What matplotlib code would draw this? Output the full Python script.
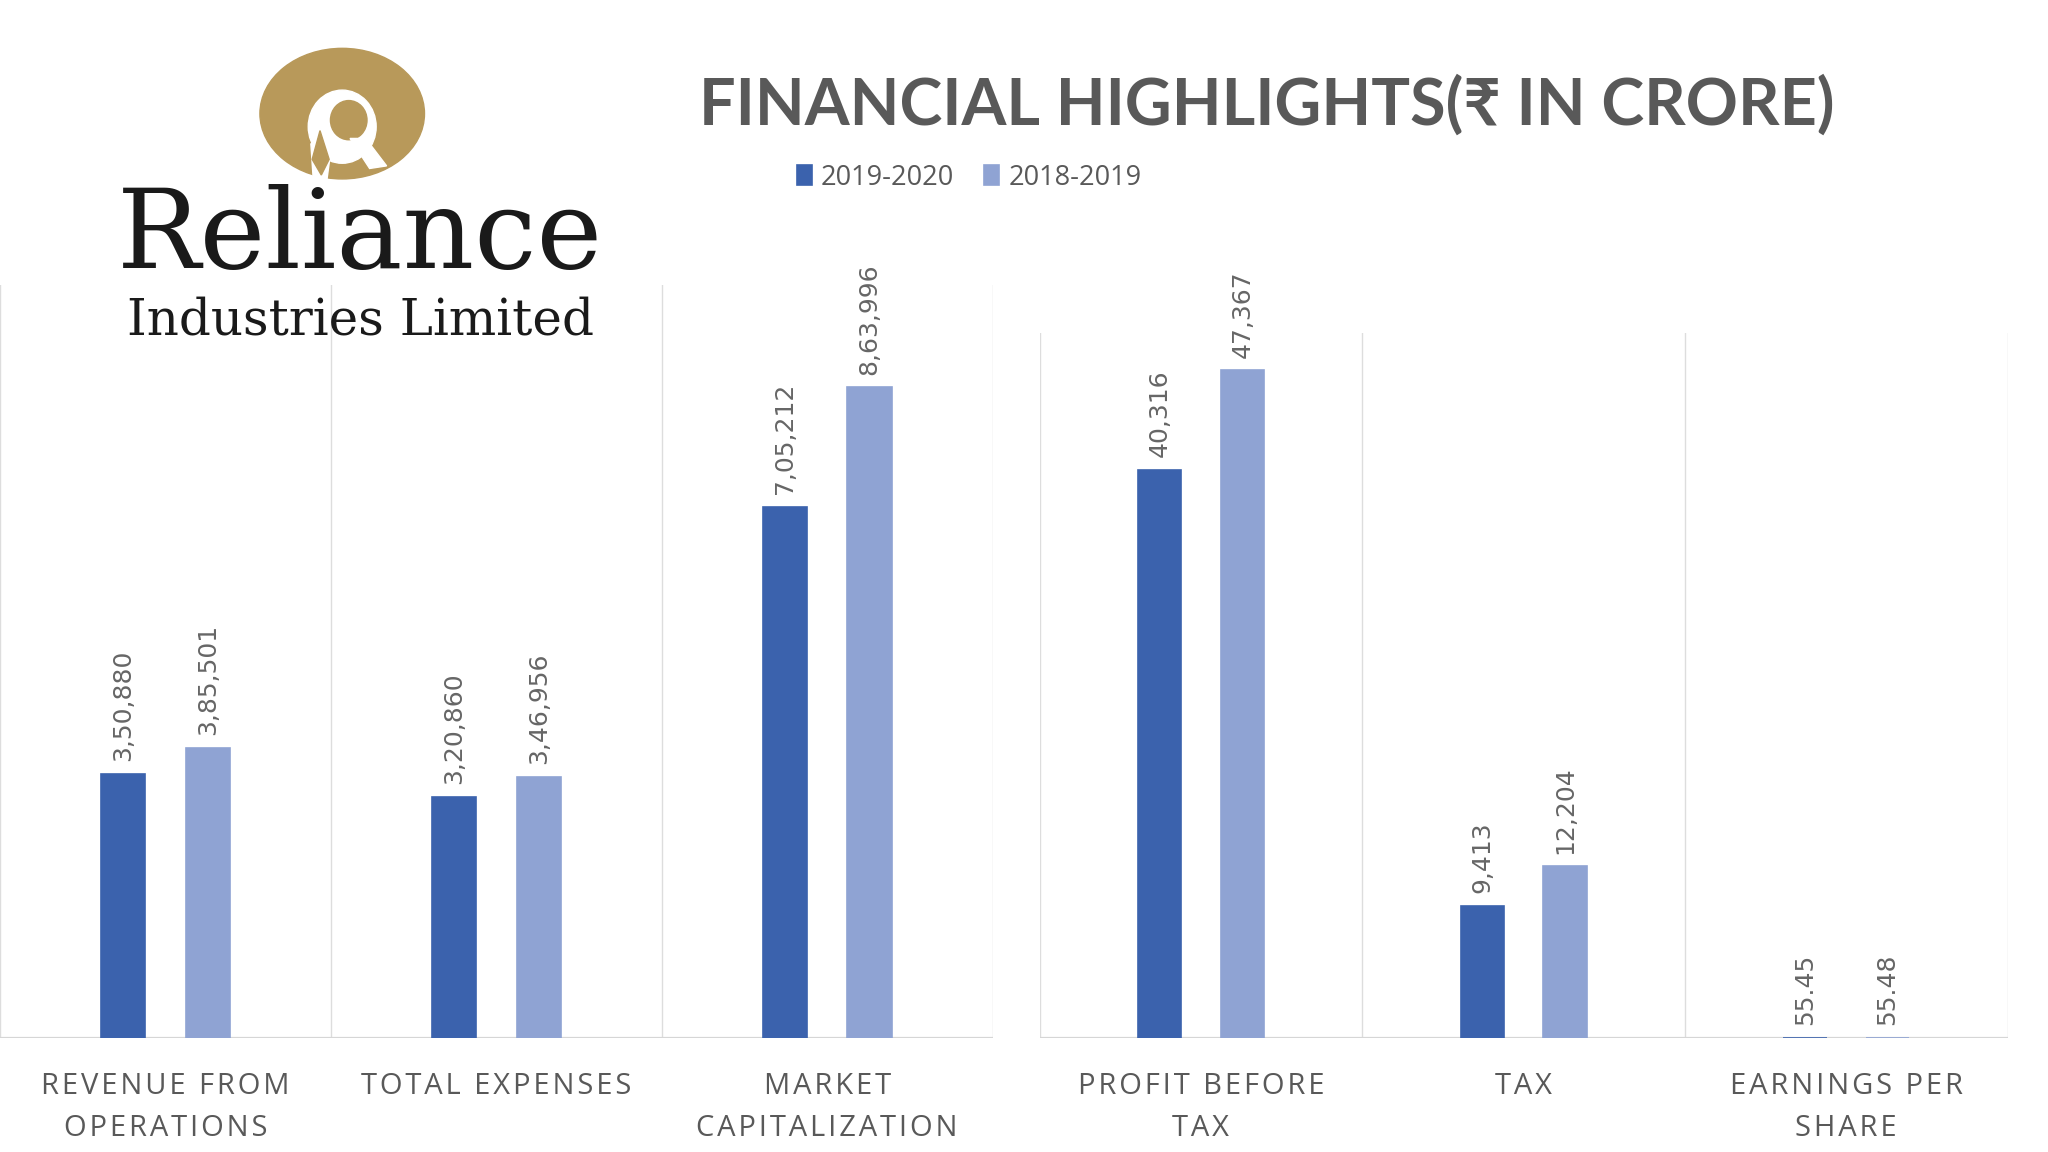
import numpy as np
import matplotlib as mpl
import matplotlib.pyplot as plt
from matplotlib.patches import Ellipse, Polygon

# values in Rs crore (EPS in Rs)
left_cats = ['REVENUE FROM\nOPERATIONS', 'TOTAL EXPENSES', 'MARKET\nCAPITALIZATION']
left_2020 = [350880, 320860, 705212]
left_2019 = [385501, 346956, 863996]

right_cats = ['PROFIT BEFORE\nTAX', 'TAX', 'EARNINGS PER\nSHARE']
right_2020 = [40316, 9413, 55.45]
right_2019 = [47367, 12204, 55.48]

series_names = ['2019-2020', '2018-2019']
c_dark = '#3B62AD'
c_light = '#8FA3D3'
grey = '#595959'
line_c = '#dddddd'

W, H = 1568.0, 882.0  # layout measured on a 1568x882 copy


def fx(x):
    return x / W


def fy(y):
    return 1 - y / H


def inr(v):
    # indian digit grouping, e.g. 3,50,880
    if v != int(v):
        return '{0:.2f}'.format(v)
    s = str(int(v))
    if len(s) <= 3:
        return s
    head, tail = s[:-3], s[-3:]
    parts = []
    while len(head) > 2:
        parts.insert(0, head[-2:])
        head = head[:-2]
    if head:
        parts.insert(0, head)
    return ','.join(parts) + ',' + tail


def spaced(label):
    # wide letter spacing like the original
    return '\n'.join('\u200a'.join(line) for line in label.split('\n'))


def panel(ax, cats, v1, v2, ymax):
    x = np.arange(len(cats))
    w = 0.134
    off = 0.128
    b1 = ax.bar(x - off, v1, w, color=c_dark, edgecolor=c_dark, linewidth=1.2, label=series_names[0], zorder=3)
    b2 = ax.bar(x + off, v2, w, color=c_light, edgecolor=c_light, linewidth=1.2, label=series_names[1], zorder=3)
    for bars, vals in ((b1, v1), (b2, v2)):
        for b, v in zip(bars, vals):
            ax.annotate(inr(v), (b.get_x() + b.get_width() / 2, v), xytext=(0, 9),
                        textcoords='offset points', rotation=90, ha='center', va='bottom',
                        fontsize=18, color='#666666', family='DejaVu Sans')
    ax.set_xlim(-0.5, len(cats) - 0.5)
    ax.set_ylim(0, ymax)
    for s in ax.spines.values():
        s.set_visible(False)
    ax.axhline(0, color='#d6d6d6', linewidth=1.6, zorder=2)
    for xv in np.arange(-0.5, len(cats), 1.0):
        ax.axvline(xv, color=line_c, linewidth=1.0, zorder=1)
    ax.set_yticks([])
    ax.set_xticks(x)
    ax.set_xticklabels([spaced(c) for c in cats], fontsize=21, color=grey,
                       family=['Open Sans', 'DejaVu Sans'], linespacing=1.6)
    ax.tick_params(axis='x', length=0, pad=24)
    return b1, b2


fig = plt.figure(figsize=(20.48, 11.52), dpi=100)
fig.patch.set_facecolor('white')

axL = fig.add_axes([fx(0), fy(795), fx(760), (795 - 218) / H])
axR = fig.add_axes([fx(796), fy(795), fx(1537 - 796), (795 - 255) / H])
hb1, hb2 = panel(axL, left_cats, left_2020, left_2019, 1000000)
panel(axR, right_cats, right_2020, right_2019, 50000)

fig.text(fx(970), fy(80), 'FINANCIAL HIGHLIGHTS(\u20b9 IN CRORE)', ha='center', va='center',
         fontsize=46.5, fontweight='bold', color=grey, family=['Lato', 'DejaVu Sans'])

fig.legend([hb1, hb2], series_names, loc='center', bbox_to_anchor=(fx(742), fy(136)), ncol=2,
           frameon=False, labelcolor=grey, handlelength=0.55, handleheight=0.75,
           handletextpad=0.35, columnspacing=1.1, prop={'family': 'Open Sans', 'size': 19.5})

# logo
gold = '#B8995A'
fig.patches.append(Ellipse((fx(262), fy(87)), fx(126), 100 / H, color=gold, transform=fig.transFigure))
fig.patches.append(Ellipse((fx(262), fy(97)), fx(52), 56 / H, color='white', transform=fig.transFigure))
fig.patches.append(Ellipse((fx(267), fy(92)), fx(28), 30 / H, color=gold, transform=fig.transFigure))
fig.patches.append(Polygon([(fx(238), fy(110)), (fx(254), fy(110)), (fx(250), fy(140)), (fx(240), fy(140))],
                           closed=True, color='white', transform=fig.transFigure))
fig.patches.append(Polygon([(fx(245), fy(100)), (fx(252), fy(122)), (fx(246), fy(134)), (fx(239), fy(122))],
                           closed=True, color=gold, transform=fig.transFigure))
fig.patches.append(Polygon([(fx(268), fy(106)), (fx(280), fy(106)), (fx(296), fy(127)), (fx(283), fy(129))],
                           closed=True, color='white', transform=fig.transFigure))

fig.text(fx(276), fy(205), 'Reliance', ha='center', va='baseline', fontsize=80,
         color='#1a1a1a', family='DejaVu Serif')
fig.text(fx(276), fy(256), 'Industries Limited', ha='center', va='baseline', fontsize=36,
         color='#1a1a1a', family='DejaVu Serif')

fig.savefig('out.png', dpi=100)
